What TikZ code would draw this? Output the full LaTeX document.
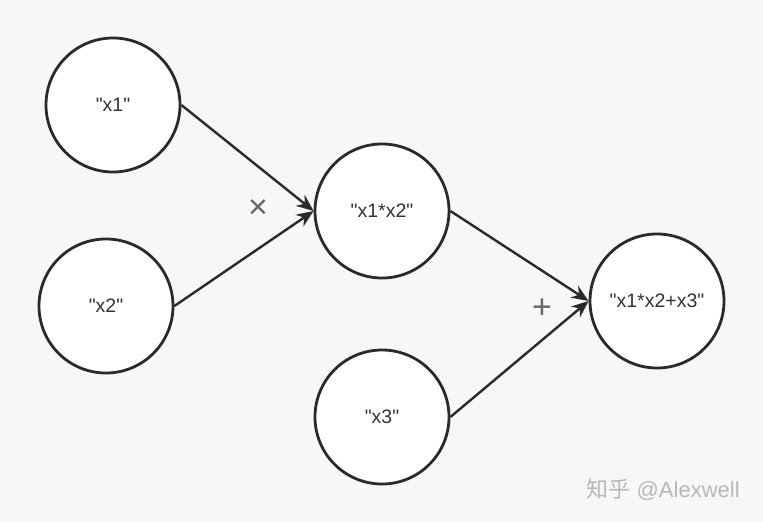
\documentclass[tikz,border=0pt]{standalone}
\usepackage{fontspec}
\setmainfont{Liberation Sans}[Ligatures=TeXOff]
\newfontfamily\cjkfont{Noto Sans CJK SC}
\usetikzlibrary{arrows.meta, positioning}
\definecolor{bggray}{HTML}{F7F7F7}
\definecolor{linedark}{HTML}{2A2A2A}
\definecolor{txtdark}{HTML}{333333}
\definecolor{opgray}{HTML}{666666}
\definecolor{markgray}{HTML}{B8B8B8}

\begin{document}
\begin{tikzpicture}[
    x=1pt, y=-1pt,
    >={Stealth[length=17pt, width=14pt]},
    font=\fontsize{19.5}{22}\selectfont,
    text=txtdark,
    valnode/.style={
        circle, draw=linedark, fill=white, line width=2.8pt,
        minimum size=134pt, inner sep=0pt, align=center,
    },
    arr/.style={->, line width=2.4pt, color=linedark},
    oplabel/.style={font=\fontsize{34}{36}\selectfont, text=opgray},
]

% background and margins
\fill[bggray] (0,0) rectangle (763,522);
\useasboundingbox (0,0) rectangle (763,522);

% inputs
\node[valnode] (x1) at (113,105) {"x1"};
\node[valnode] (x2) at (106,306) {"x2"};
\node[valnode] (x3) at (382,417) {"x3"};

% intermediate and result
\node[valnode] (prod) at (382,211) {"x1*x2"};
\node[valnode] (sum) at (657,301) {"x1*x2+x3"};

% multiply step
\draw[arr] (x1.east) -- (prod.west);
\draw[arr] (x2.east) -- (prod.west);
\node[oplabel] (times) at (258,209) {×};

% add step
\draw[arr] (prod.east) -- (sum.west);
\draw[arr] (x3.east) -- (sum.west);
\node[oplabel] (plus) at (542,309) {+};

% watermark
\node[anchor=west, text=markgray, font=\fontsize{22}{24}\selectfont] (mark) at (583,490)
    {{\cjkfont 知乎} @Alexwell};

\end{tikzpicture}
\end{document}
